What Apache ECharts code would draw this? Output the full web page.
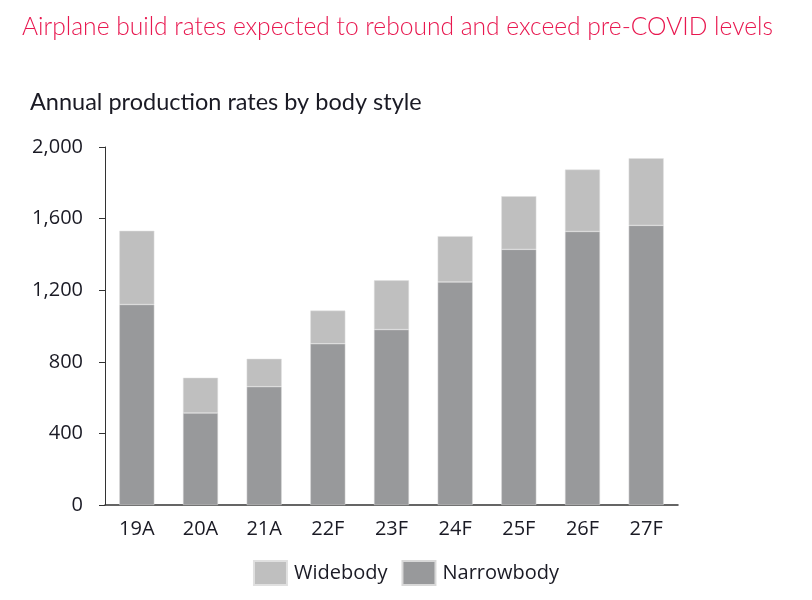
<!DOCTYPE html>
<html>
<head>
<meta charset="utf-8">
<script src="https://cdn.jsdelivr.net/npm/echarts@6/dist/echarts.min.js"></script>
<style>html,body{margin:0;padding:0;background:#fff}#c{width:812px;height:600px}</style>
</head>
<body>
<div id="c"></div>
<script>
const categories = ['19A','20A','21A','22F','23F','24F','25F','26F','27F'];
const narrowbody = [1120, 514, 661, 901, 980, 1246, 1428, 1528, 1562];
const widebody = [412, 197, 156, 185, 275, 256, 297, 346, 375];
const yTicks = [0, 400, 800, 1200, 1600, 2000];

const chart = echarts.init(document.getElementById('c'));
chart.setOption({
  animation: false,
  title: [
    { text: 'Airplane build rates expected to rebound and exceed pre-COVID levels', left: 17, top: 10,
      textStyle: { color: '#e8174f', fontSize: 24.6, fontWeight: 300, fontFamily: 'Lato' } },
    { text: 'Annual production rates by body style', left: 25, top: 85,
      textStyle: { color: '#1a1a24', fontSize: 23.5, fontWeight: 'normal', fontFamily: 'Lato' } }
  ],
  legend: {
    data: ['Widebody', 'Narrowbody'],
    bottom: 9, left: 'center',
    itemWidth: 33, itemHeight: 24, itemGap: 14,
    icon: 'rect',
    textStyle: { fontSize: 20, color: '#1a1a24', fontFamily: 'Open Sans', padding: [0, 0, 0, 2] }
  },
  grid: { left: 105, right: 134, top: 147, bottom: 95 },
  xAxis: {
    type: 'category', data: categories,
    axisLine: { lineStyle: { color: '#333', width: 1.5 } },
    axisTick: { show: false },
    axisLabel: { fontSize: 20, color: '#1a1a24', margin: 14, fontFamily: 'Open Sans' }
  },
  yAxis: {
    type: 'value', min: yTicks[0], max: yTicks[yTicks.length - 1], interval: 400,
    axisLine: { show: true, lineStyle: { color: '#333' } },
    axisTick: { show: true, length: 6, lineStyle: { color: '#333' } },
    splitLine: { show: false },
    axisLabel: { fontSize: 20, color: '#1a1a24', margin: 22, fontFamily: 'Open Sans',
      formatter: v => v.toLocaleString('en-US') }
  },
  series: [
    { name: 'Narrowbody', type: 'bar', stack: 'a', data: narrowbody, barWidth: '55%',
      itemStyle: { color: '#98999b', borderColor: '#d8d8d8', borderWidth: 0.5 } },
    { name: 'Widebody', type: 'bar', stack: 'a', data: widebody, barWidth: '55%',
      itemStyle: { color: '#bfbfbf', borderColor: '#e0e0e0', borderWidth: 0.5 } }
  ]
});
</script>
</body>
</html>
